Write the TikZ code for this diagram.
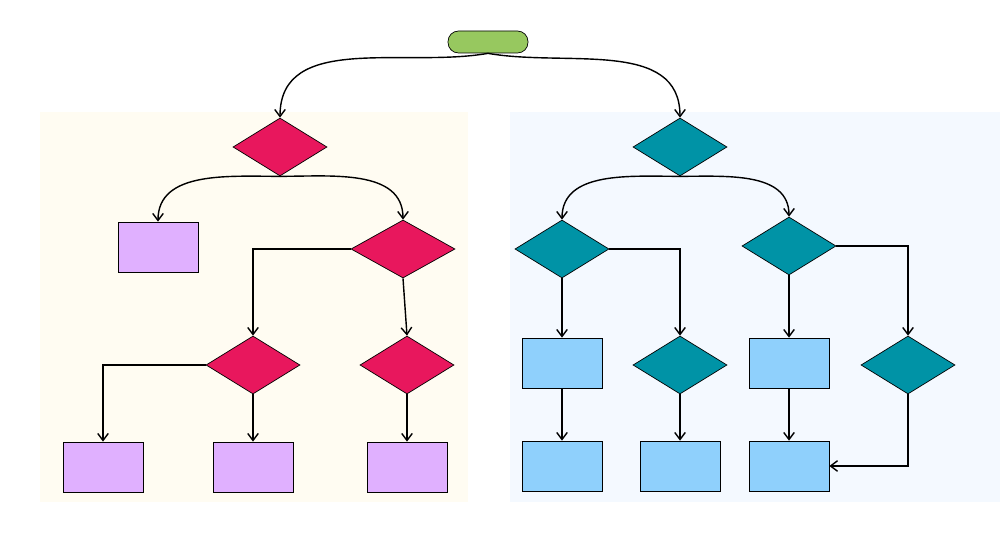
\documentclass[tikz,border=0pt]{standalone}
\usepackage{tikz}
\usetikzlibrary{shapes.geometric,arrows.meta}
\definecolor{startgreen}{HTML}{97C85F}
\definecolor{decred}{HTML}{E8175D}
\definecolor{leafpurple}{HTML}{E0B0FF}
\definecolor{decteal}{HTML}{0093A6}
\definecolor{leafblue}{HTML}{8FD0FC}
\definecolor{paneyellow}{HTML}{FFFCF2}
\definecolor{paneblue}{HTML}{F4F9FF}
\tikzstyle{start}=[draw,rounded corners=6pt,fill=startgreen,minimum width=1.6cm,minimum height=0.44cm]
\tikzstyle{decision}=[draw,diamond,aspect=1.6,inner sep=0pt,minimum width=1.88cm,minimum height=1.16cm]
\tikzstyle{leaf}=[draw,rectangle,minimum width=1.6cm,minimum height=1cm]
\tikzstyle{flow}=[draw,thick,-{Straight Barb[length=4pt,width=6pt]},black]

\begin{document}
\begin{tikzpicture}[x=0.02cm,y=-0.02cm]
	\useasboundingbox (0,0) rectangle (1000,536);
	\fill[paneyellow] (40,112) rectangle (468,502);
	\fill[paneblue] (510,112) rectangle (1000,502);

	\node[start] (top) at (488,42) {};

	% % % left branch
	\node[decision,fill=decred] (d1) at (280,147) {};
	\node[leaf,fill=leafpurple] (p1) at (158,247) {};
	\node[decision,fill=decred,minimum width=2.08cm] (d2) at (403,249) {};
	\node[decision,fill=decred] (d3) at (253,365) {};
	\node[decision,fill=decred] (d4) at (407,365) {};
	\node[leaf,fill=leafpurple] (p2) at (103,467) {};
	\node[leaf,fill=leafpurple] (p3) at (253,467) {};
	\node[leaf,fill=leafpurple] (p4) at (407,467) {};

	% % % right branch
	\node[decision,fill=decteal] (t1) at (680,147) {};
	\node[decision,fill=decteal] (t2) at (562,249) {};
	\node[decision,fill=decteal] (t3) at (789,246) {};
	\node[leaf,fill=leafblue] (b1) at (562,363) {};
	\node[decision,fill=decteal] (t4) at (680,365) {};
	\node[leaf,fill=leafblue] (b2) at (789,363) {};
	\node[decision,fill=decteal] (t5) at (908,365) {};
	\node[leaf,fill=leafblue] (b3) at (562,466) {};
	\node[leaf,fill=leafblue] (b4) at (680,466) {};
	\node[leaf,fill=leafblue] (b5) at (789,466) {};

	\path[flow] (top.south) to[out=190,in=90] (d1.north);
	\path[flow] (top.south) to[out=-10,in=90] (t1.north);

	\path[flow] (d1.south) to[out=180,in=90] (p1.north);
	\path[flow] (d1.south) to[out=0,in=90] (d2.north);
	\path[flow] (d2.west) -| (d3.north);
	\path[flow] (d2.south) -- (d4.north);
	\path[flow] (d3.west) -| (p2.north);
	\path[flow] (d3.south) -- (p3.north);
	\path[flow] (d4.south) -- (p4.north);

	\path[flow] (t1.south) to[out=180,in=90] (t2.north);
	\path[flow] (t1.south) to[out=0,in=90] (t3.north);
	\path[flow] (t2.south) -- (b1.north);
	\path[flow] (t2.east) -| (t4.north);
	\path[flow] (t3.south) -- (b2.north);
	\path[flow] (t3.east) -| (t5.north);
	\path[flow] (b1.south) -- (b3.north);
	\path[flow] (t4.south) -- (b4.north);
	\path[flow] (b2.south) -- (b5.north);
	\path[flow] (t5.south) |- (b5.east);

\end{tikzpicture}
\end{document}
